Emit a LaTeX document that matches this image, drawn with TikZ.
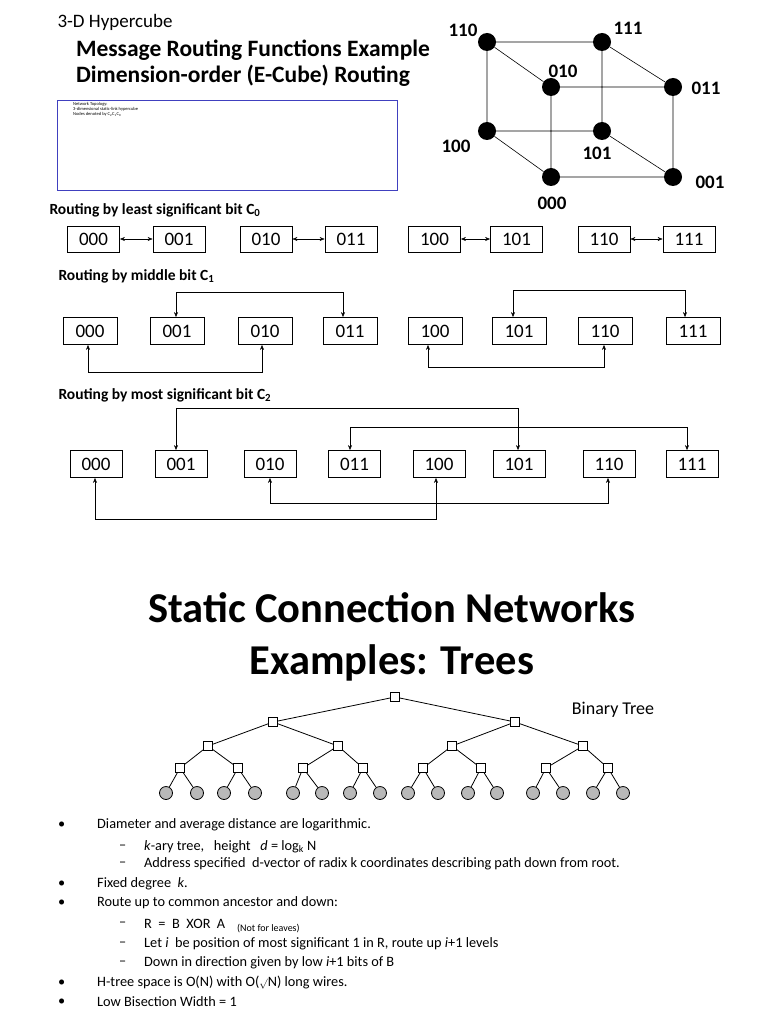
\documentclass[tikz,border=0pt]{standalone}
\usepackage{fontspec}
\setmainfont{Carlito}
\usetikzlibrary{arrows.meta}
\begin{document}
\begin{tikzpicture}[x=1pt,y=-1pt,
  bx/.style={draw,thick,minimum width=52pt,minimum height=27pt,inner sep=0pt,font=\fontsize{19}{19}\selectfont},
  hc/.style={circle,fill=black,minimum size=18pt,inner sep=0pt},
  hl/.style={font=\fontsize{19}{19}\selectfont\bfseries},
  lbl/.style={anchor=west,font=\fontsize{15.5}{15.5}\selectfont\bfseries},
  ar/.style={-{Stealth[length=5pt,width=4pt]}},
  tn/.style={draw,thick,minimum size=9pt,inner sep=0pt,fill=white},
  lf/.style={circle,draw,thick,fill=gray!55,minimum size=13pt,inner sep=0pt},
  bt/.style={anchor=west,inner sep=1pt,font=\fontsize{14.3}{14.3}\selectfont}]
\useasboundingbox (0,0) rectangle (768,1024);
% titles
\node[anchor=west,font=\fontsize{19}{19}\selectfont] (t0) at (54,22) {3-D Hypercube};
\node[font=\fontsize{23.5}{23.5}\selectfont\bfseries] (t1) at (253,50) {Message Routing Functions Example};
\node[font=\fontsize{23.5}{23.5}\selectfont\bfseries] (t2) at (243,76) {Dimension-order (E-Cube) Routing};
\draw[blue!50!gray,thin] (57,100) rectangle (397,190);
\node[anchor=north west,align=left,font=\fontsize{4.5}{5}\selectfont,inner sep=0pt] (nt) at (73,102) {Network Topology:\\3-dimensional static-link hypercube\\Nodes denoted by C\textsubscript{2}C\textsubscript{1}C\textsubscript{0}};
% hypercube
\node[hc] (h110) at (487,42) {}; \node[hc] (h111) at (602,42) {};
\node[hc] (h010) at (551,87) {}; \node[hc] (h011) at (673,87) {};
\node[hc] (h100) at (487,131) {}; \node[hc] (h101) at (602,131) {};
\node[hc] (h000) at (551,177) {}; \node[hc] (h001) at (673,177) {};
\draw[semithick] (h110)--(h111) (h110)--(h010) (h111)--(h011) (h010)--(h011)
 (h110)--(h100) (h111)--(h101) (h010)--(h000) (h011)--(h001)
 (h100)--(h101) (h100)--(h000) (h101)--(h001) (h000)--(h001);
\node[hl] (l110) at (463,30) {110}; \node[hl] (l111) at (628,28) {111};
\node[hl] (l010) at (563,71) {010}; \node[hl] (l011) at (706,88) {011};
\node[hl] (l100) at (456,146) {100}; \node[hl] (l101) at (597,153) {101};
\node[hl] (l000) at (552,203) {000}; \node[hl] (l001) at (710,182) {001};
% row 1
\node[lbl] (r1) at (46,210) {Routing by least significant bit C\textsubscript{0}};
\foreach \n/\x in {000/93.5,001/179,010/266,011/351,100/434.5,101/516.5,110/604,111/689}
  \node[bx,minimum height=26pt] (a\n) at (\x,239) {\n};
\foreach \p/\q in {000/001,010/011,100/101,110/111}
  \draw[{Stealth[length=5pt,width=4pt]}-{Stealth[length=5pt,width=4pt]}] (a\p)--(a\q);
% row 2
\node[lbl] (r2) at (55,276) {Routing by middle bit C\textsubscript{1}};
\foreach \n/\x in {000/90,001/177,010/265,011/350,100/435,101/519,110/605,111/693}
  \node[bx,minimum width=54pt] (b\n) at (\x,331) {\n};
\coordinate (b1u) at (176,292); \coordinate (b3u) at (343,292);
\draw[ar] (b1u) -- (b1u |- b001.north);
\draw[ar] (b1u) -- (b3u) -- (b3u |- b011.north);
\coordinate (b5u) at (513,290); \coordinate (b7u) at (685,290);
\draw[ar] (b5u) -- (b5u |- b101.north);
\draw[ar] (b5u) -- (b7u) -- (b7u |- b111.north);
\coordinate (b0d) at (88,372); \coordinate (b2d) at (262,372);
\draw[ar] (b0d) -- (b0d |- b000.south);
\draw[ar] (b0d) -- (b2d) -- (b2d |- b010.south);
\coordinate (b4d) at (428,367); \coordinate (b6d) at (604,367);
\draw[ar] (b4d) -- (b4d |- b100.south);
\draw[ar] (b4d) -- (b6d) -- (b6d |- b110.south);
% row 3
\node[lbl] (r3) at (55,395) {Routing by most significant bit C\textsubscript{2}};
\foreach \n/\x in {000/96,001/181,010/270,011/354.5,100/439,101/519,110/609,111/692}
  \node[bx,minimum width=52pt] (c\n) at (\x,464) {\n};
\coordinate (c1u) at (176,408); \coordinate (c5u) at (518,408);
\draw[ar] (c1u) -- (c1u |- c001.north);
\draw[ar] (c1u) -- (c5u) -- (c5u |- c101.north);
\coordinate (c3u) at (350,427); \coordinate (c7u) at (687,427);
\draw[ar] (c3u) -- (c3u |- c011.north);
\draw[ar] (c3u) -- (c7u) -- (c7u |- c111.north);
\coordinate (c0d) at (95,519); \coordinate (c4d) at (436,519);
\draw[ar] (c0d) -- (c0d |- c000.south);
\draw[ar] (c0d) -- (c4d) -- (c4d |- c100.south);
\coordinate (c2d) at (270,503); \coordinate (c6d) at (608,503);
\draw[ar] (c2d) -- (c2d |- c010.south);
\draw[ar] (c2d) -- (c6d) -- (c6d |- c110.south);
% second slide title
\node[font=\fontsize{42.5}{42.5}\selectfont\bfseries] (s1) at (392,608) {Static Connection Networks};
\node[font=\fontsize{42.5}{42.5}\selectfont\bfseries] (s2) at (392,663) {Examples: Trees};
\node[font=\fontsize{18}{18}\selectfont] (btl) at (613,710) {Binary Tree};
% tree
\node[tn] (n1) at (395,697) {};
\node[tn] (n2) at (273,722) {}; \node[tn] (n3) at (515,722) {};
\foreach \i/\x in {4/208,5/338,6/452,7/583} \node[tn] (n\i) at (\x,746) {};
\foreach \i/\x in {8/180,9/238,10/303,11/363,12/423,13/481,14/546,15/608} \node[tn] (n\i) at (\x,768) {};
\foreach \i/\x in {16/166,17/197,18/224,19/255,20/293,21/322,22/350,23/380,24/408,25/438,26/468,27/497,28/533,29/563,30/593,31/623} \node[lf] (n\i) at (\x,793) {};
\foreach \i in {2,...,31}{
  \pgfmathtruncatemacro{\p}{int(\i/2)}
  \draw[thick] (n\p) -- (n\i);
}
% bullets
\foreach \y/\t in {825/{Diameter and average distance are logarithmic.},884/{Fixed degree~~\textit{k}.},903/{Route up to common ancestor and down:},983/{H-tree space is O(N) with O($\scriptstyle\surd$N) long wires.},1002/{Low Bisection Width = 1}}
  {\node[bt] at (57,\y) {\textbullet}; \node[bt] at (96,\y) {\t};}
\foreach \y/\t in {847/{\textit{k}-ary tree,~~~height~~~\textit{d} = log\textsubscript{k} N},864/{Address specified~~d-vector of radix k coordinates describing path down from root.},924/{R~~=~~B~~XOR~~A},944/{Let \textit{i}~~be position of most significant 1 in R, route up \textit{i}+1 levels},963/{Down in direction given by low \textit{i}+1 bits of B}}
  {\node[bt] at (118,\y) {--}; \node[bt] at (143,\y) {\t};}
\node[bt,font=\fontsize{10}{10}\selectfont,inner sep=0pt] (nl) at (237,929) {(Not for leaves)};
\end{tikzpicture}
\end{document}
